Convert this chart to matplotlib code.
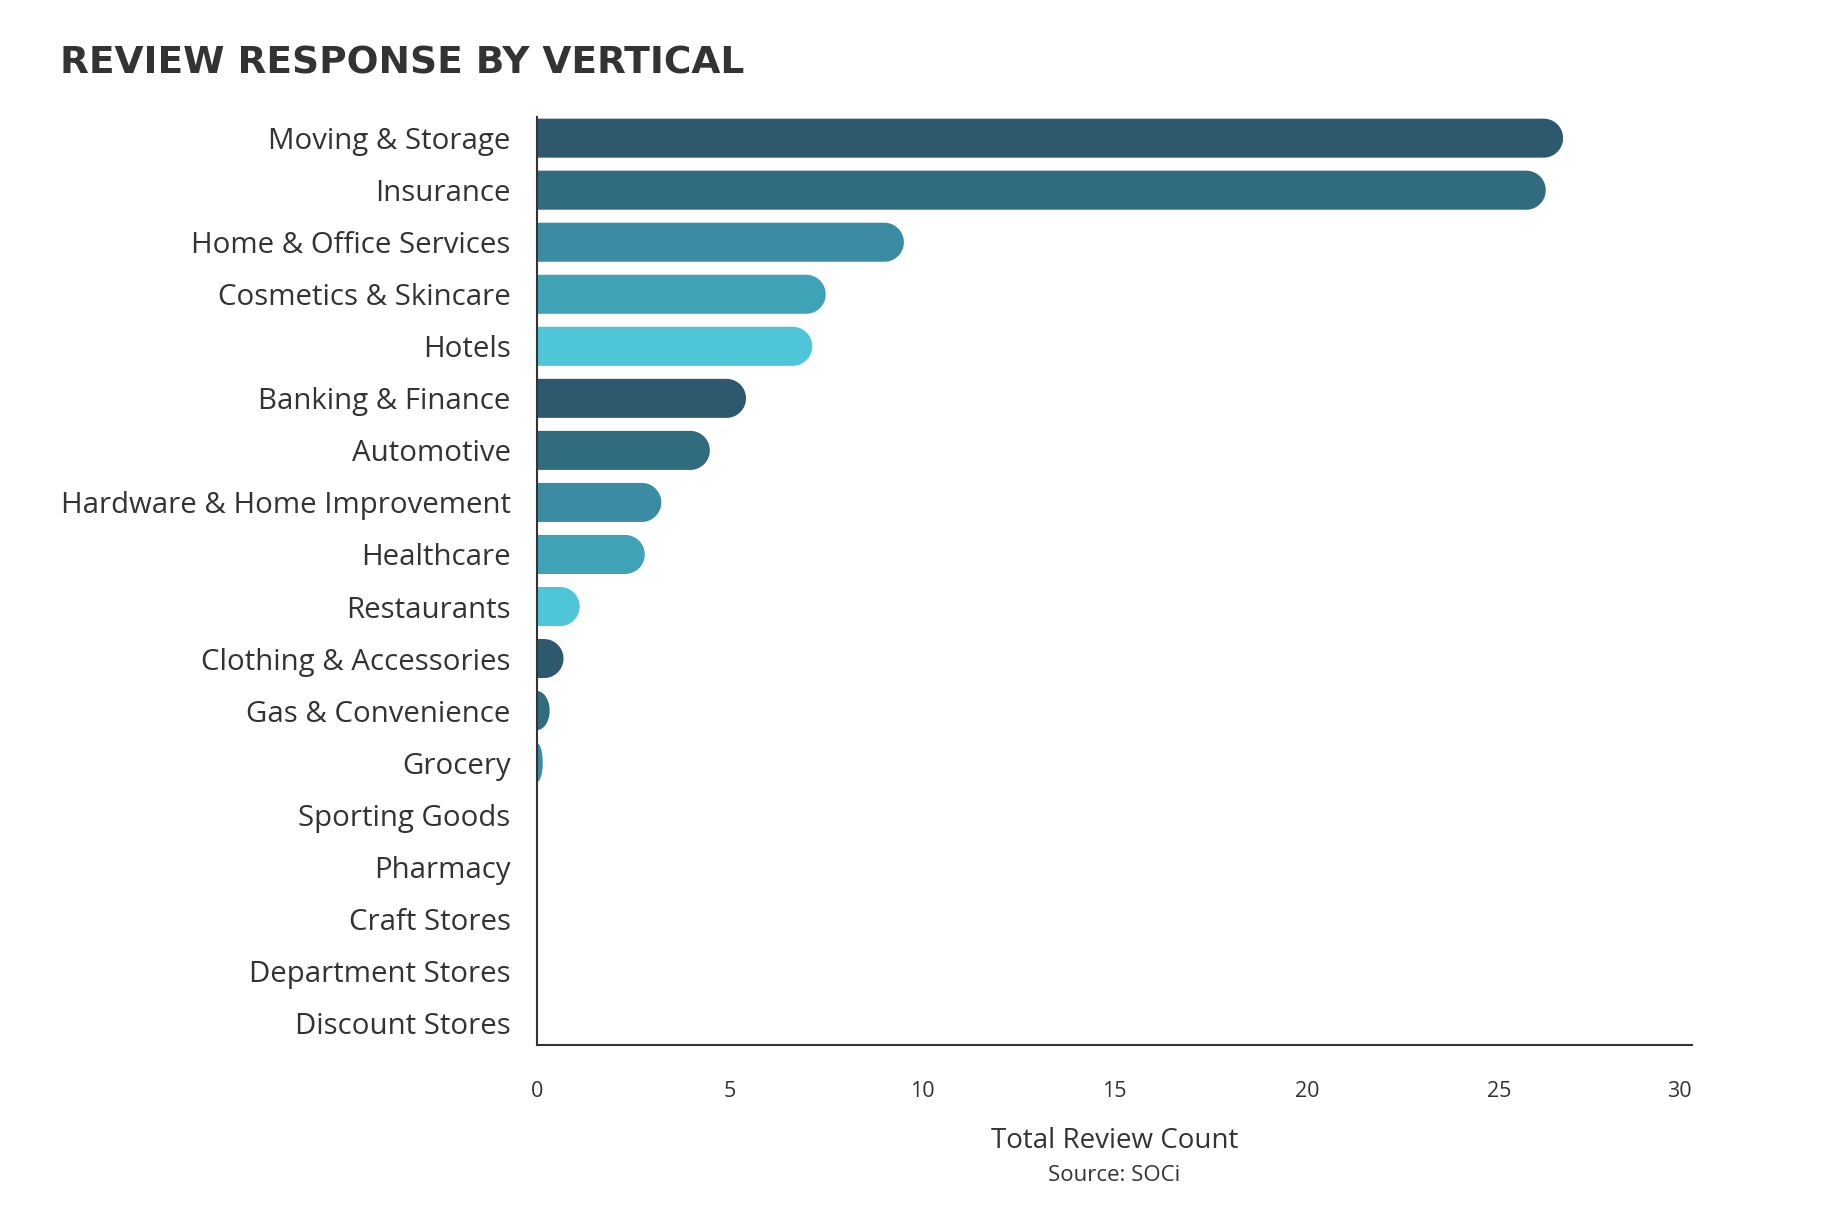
import matplotlib
matplotlib.use("Agg")
import matplotlib.pyplot as plt
import numpy as np
from matplotlib.patches import PathPatch
from matplotlib.path import Path

categories = ["Moving & Storage", "Insurance", "Home & Office Services", "Cosmetics & Skincare",
              "Hotels", "Banking & Finance", "Automotive", "Hardware & Home Improvement",
              "Healthcare", "Restaurants", "Clothing & Accessories", "Gas & Convenience",
              "Grocery", "Sporting Goods", "Pharmacy", "Craft Stores", "Department Stores",
              "Discount Stores"]
values = [26.65, 26.2, 9.53, 7.5, 7.15, 5.43, 4.49, 3.23, 2.8, 1.11, 0.69, 0.33, 0.15,
          0, 0, 0, 0, 0]
palette = ["#2D586D", "#316B7E", "#3B8CA2", "#40A3B5", "#4FC6D7"]
xticks = [0, 5, 10, 15, 20, 25, 30]

TXT = "#333333"
fig = plt.figure(figsize=(18.22, 12.16), dpi=100)
ax = fig.add_axes([0.2947, 0.1409, 0.6340, 0.7626])
ax.set_xlim(0, 30)
ax.set_ylim(len(categories) - 1 + 0.42, -0.40)

bar_h = 0.75
# pixel scales for round caps
p0 = ax.transData.transform((0, 0))
p1 = ax.transData.transform((1, 1))
px_x = abs(p1[0] - p0[0])
px_y = abs(p1[1] - p0[1])
r_data = (bar_h * px_y / 2) / px_x

for i, (cat, v) in enumerate(zip(categories, values)):
    if v <= 0:
        continue
    col = palette[i % len(palette)]
    rx = min(r_data, v)
    xs = v - rx
    t = np.linspace(-np.pi / 2, np.pi / 2, 60)
    arc_x = xs + rx * np.cos(t)
    arc_y = i - (bar_h / 2) * np.sin(t)
    verts = [(0, i + bar_h / 2)] + list(zip(arc_x, arc_y)) + [(0, i - bar_h / 2), (0, i + bar_h / 2)]
    codes = [Path.MOVETO] + [Path.LINETO] * (len(verts) - 2) + [Path.CLOSEPOLY]
    ax.add_patch(PathPatch(Path(verts, codes), facecolor=col, edgecolor="none", zorder=2))

ax.set_yticks(range(len(categories)))
ax.set_yticklabels(categories, fontfamily="Open Sans", fontsize=21.2, color=TXT)
ax.set_xticks(xticks)
xtl = ax.set_xticklabels([str(x) for x in xticks], fontfamily="Open Sans", fontsize=15.5, color=TXT)
xtl[-1].set_horizontalalignment("right")
ax.tick_params(axis="y", length=0, pad=19)
ax.tick_params(axis="x", length=0, pad=26)

for s in ["top", "right"]:
    ax.spines[s].set_visible(False)
for s in ["left", "bottom"]:
    ax.spines[s].set_color("#333333")
    ax.spines[s].set_linewidth(1.5)
    ax.spines[s].set_zorder(3)

fig.text(0.033, 0.948, "REVIEW RESPONSE BY VERTICAL", fontfamily="DejaVu Sans",
         fontweight="bold", fontsize=27, color=TXT, va="center", ha="left")
fig.text(0.6117, 0.0617, "Total Review Count", fontfamily="Open Sans", fontsize=20,
         color=TXT, ha="center", va="center")
fig.text(0.6117, 0.0337, "Source: SOCi", fontfamily="Open Sans", fontsize=16,
         color=TXT, ha="center", va="center")

fig.savefig("out.png", dpi=100, facecolor="white")
